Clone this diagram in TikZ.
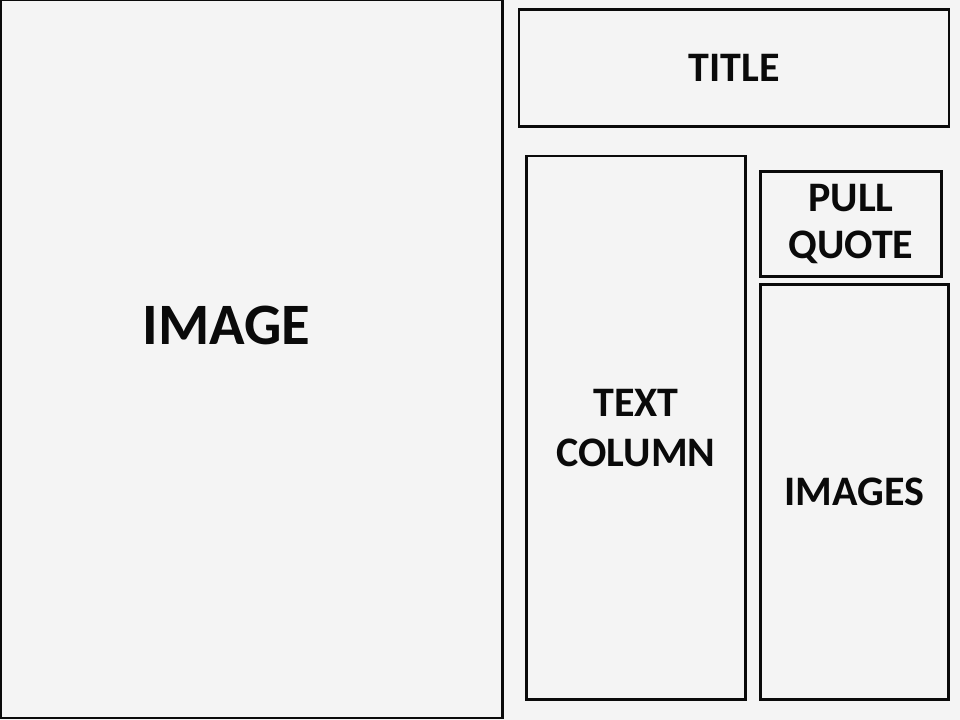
\documentclass[tikz,border=0pt]{standalone}
\usepackage{fontspec}
\setmainfont{Carlito}
\definecolor{bgc}{HTML}{F4F4F4}
\definecolor{ink}{HTML}{0A0A0A}
\begin{document}
\begin{tikzpicture}[x=0.75pt,y=-0.75pt,
  panel/.style={draw=ink,line width=2.2pt,inner sep=0pt,outer sep=0pt,fill=none},
  lbl/.style={text=ink,font=\bfseries\fontsize{31.5}{37.5}\selectfont,align=center,inner sep=0pt},
  biglbl/.style={text=ink,font=\bfseries\fontsize{44}{50}\selectfont,inner sep=0pt}]
\fill[bgc] (0,0) rectangle (960,720);
\useasboundingbox (0,0) rectangle (960,720);
\node[panel,minimum width=376.5pt,minimum height=538.5pt] (imgbox) at (251.5,359) {};
\node[biglbl] (imgtxt) at (226.5,325) {IMAGE};
\node[panel,lbl,minimum width=322.5pt,minimum height=87.75pt] (title) at (734,68) {TITLE};
\node[panel,lbl,minimum width=164.25pt,minimum height=407.6pt] (textcol) at (636,427.75) {TEXT\\COLUMN};
\node[panel,lbl,minimum width=135.6pt,minimum height=78.75pt,font=\bfseries\fontsize{31.5}{35.5}\selectfont] (pull) at (850.9,223.8) {PULL\\QUOTE};
\node[panel,lbl,minimum width=140.85pt,minimum height=311.25pt] (images) at (854.4,492) {IMAGES};
\end{tikzpicture}
\end{document}
